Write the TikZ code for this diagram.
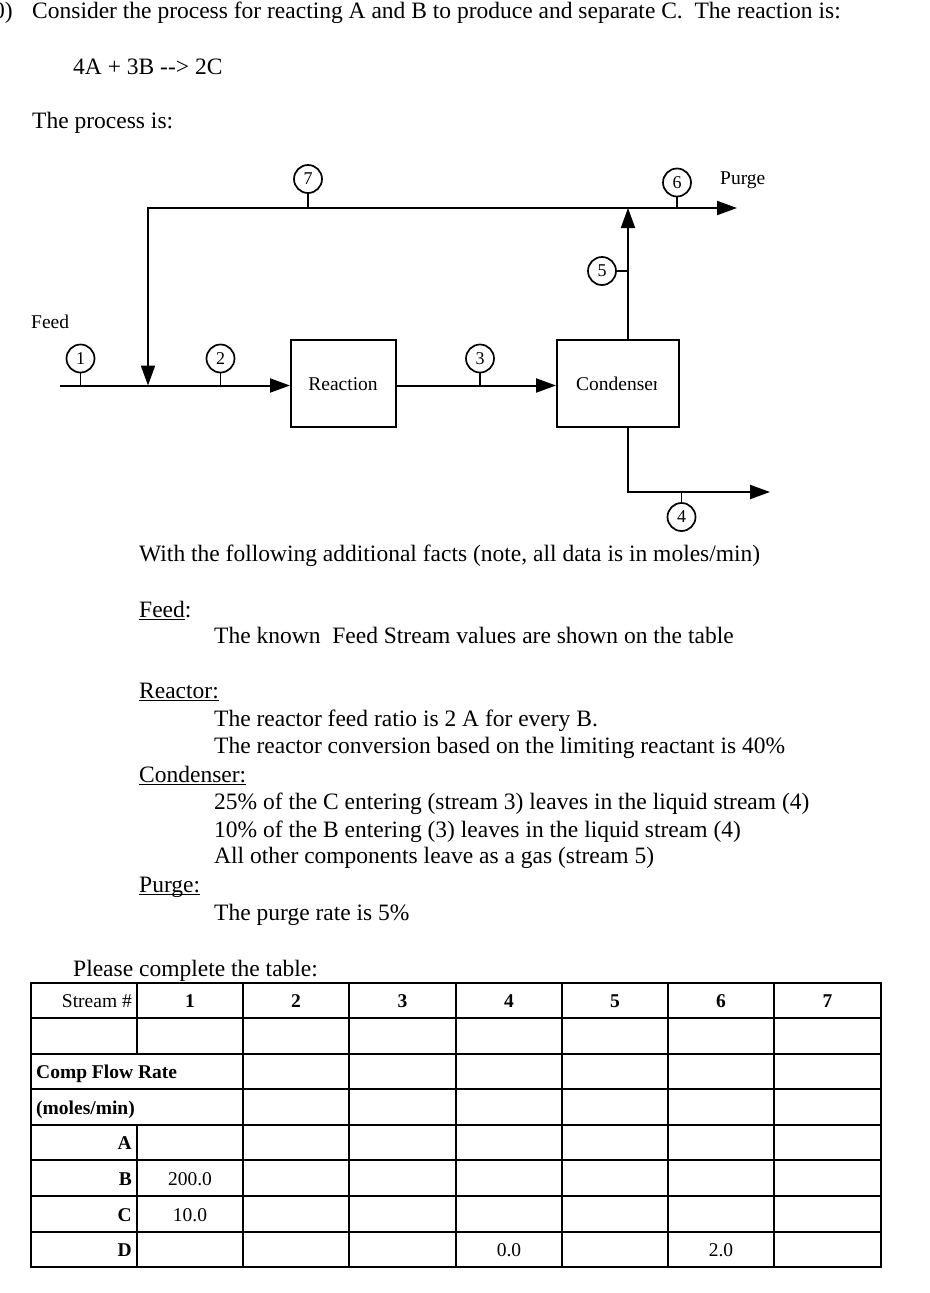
\documentclass[tikz,border=0pt]{standalone}
\usepackage{fontspec}
\setmainfont{Liberation Serif}
\usetikzlibrary{arrows.meta}
\newcommand\myul[1]{\setbox0\hbox{#1}\rlap{\rule[-3pt]{\wd0}{1.2pt}}\box0}
\begin{document}
\begin{tikzpicture}[x=1pt,y=-1pt,
  flow/.style={line width=2pt},
  arr/.style={flow,-{Triangle[length=20pt,width=14pt]}},
  stem/.style={line width=1.8pt},
  tag/.style={circle,draw,line width=1.7pt,minimum size=28pt,inner sep=0pt,font=\fontsize{18}{20}\selectfont},
  unitbox/.style={draw,line width=2pt,inner sep=0pt,minimum height=87pt},
  dlabel/.style={font=\fontsize{19.5}{22}\selectfont,inner sep=0pt},
  body/.style={anchor=base west,font=\fontsize{23.5}{27}\selectfont,inner sep=0pt},
  cell/.style={anchor=base,font=\fontsize{19.5}{22}\selectfont,inner sep=0pt},
  bcell/.style={cell,font=\fontsize{19.5}{22}\selectfont\bfseries},
  grid/.style={line width=2pt,line cap=rect},
]
\useasboundingbox (0,0) rectangle (929,1293);

% ---------- heading text ----------
\node[body,anchor=base east] (qnum) at (13,18.5) {0)};
\node[body] (q) at (32,18.5) {Consider the process for reacting A and B to produce and separate C.~ The reaction is:};
\node[body] (rxn) at (73,74) {4A + 3B -{}-{}> 2C};
\node[body] (proc) at (32,128) {The process is:};

% ---------- process diagram ----------
\node[unitbox,minimum width=105pt] (reactor) at (343.5,383.5) {};
\node[dlabel,anchor=base] (reactlbl) at (343,390) {Reaction};
\node[unitbox,minimum width=122pt] (cond) at (618,383.5) {};
\begin{scope}
  \clip (559,342) rectangle (656.5,425);
  \node[dlabel,anchor=base west] (condlbl) at (576,390) {Condenser};
\end{scope}

\coordinate (feedstart) at (60,385.5);
\coordinate (mix) at (148,385.5);
\coordinate (corner) at (148,208);
\coordinate (split) at (628,208);
\coordinate (purgeend) at (737,208);
\coordinate (liqcorner) at (628,492);
\coordinate (liqend) at (770,492);

\draw[flow] (feedstart) -- (mix);
\draw[arr] (mix) -- (mix -| reactor.west);
\draw[arr] (reactor.east |- mix) -- (cond.west |- mix);
\draw[arr] (split |- cond.north) -- (split);
\draw[arr] (split) -- (corner) -- (mix);
\draw[arr] (split) -- (purgeend);
\draw[arr] (split |- cond.south) -- (liqcorner) -- (liqend);

\node[tag] (s1) at (80.5,358.5) {1};
\draw[stem] (s1.south) -- (s1.south |- feedstart);
\node[tag] (s2) at (220.5,358.5) {2};
\draw[stem] (s2.south) -- (s2.south |- feedstart);
\node[tag] (s3) at (480,358.5) {3};
\draw[stem] (s3.south) -- (s3.south |- feedstart);
\node[tag] (s7) at (308,179) {7};
\draw[stem] (s7.south) -- (s7.south |- corner);
\node[tag] (s6) at (677,182.5) {6};
\draw[stem] (s6.south) -- (s6.south |- corner);
\node[tag] (s5) at (602,271) {5};
\draw[stem] (s5.east) -- (s5.east -| split);
\node[tag] (s4) at (681.5,517) {4};
\draw[stem] (s4.north) -- (s4.north |- liqend);

\node[dlabel,anchor=base west] (feedlbl) at (31,328) {Feed};
\node[dlabel,anchor=base west] (purgelbl) at (720,184.5) {Purge};

% ---------- facts ----------
\node[body] (t1) at (139,561) {With the following additional facts (note, all data is in moles/min)};
\node[body] (t2) at (139,617) {\myul{Feed}:};
\node[body] (t3) at (214,643) {The known~ Feed Stream values are shown on the table};
\node[body] (t4) at (139,698) {\myul{Reactor:}};
\node[body] (t5) at (214,726) {The reactor feed ratio is 2 A for every B.};
\node[body] (t6) at (214,753) {The reactor conversion based on the limiting reactant is 40\%};
\node[body] (t7) at (139,782) {\myul{Condenser:}};
\node[body] (t8) at (214,809) {25\% of the C entering (stream 3) leaves in the liquid stream (4)};
\node[body] (t9) at (214,837) {10\% of the B entering (3) leaves in the liquid stream (4)};
\node[body] (t10) at (214,863) {All other components leave as a gas (stream 5)};
\node[body] (t11) at (139,892) {\myul{Purge:}};
\node[body] (t12) at (214,920) {The purge rate is 5\%};

\node[body] (t13) at (73,976) {Please complete the table:};

% ---------- table ----------
\foreach \y in {983,1018,1054,1089,1125,1160,1196,1232,1267}
  \draw[grid] (31,\y) -- (881,\y);
\foreach \x in {31,243,349,456,562,668,774,881}
  \draw[grid] (\x,983) -- (\x,1267);
\draw[grid] (137,983) -- (137,1054);
\draw[grid] (137,1125) -- (137,1267);

\node[cell,anchor=base east] (hstream) at (132,1007) {Stream \#};
\foreach \n/\x in {1/190,2/296,3/402.5,4/509,5/615,6/721,7/827.5}
  \node[bcell] (h\n) at (\x,1007) {\n};
\node[bcell,anchor=base west] (comp) at (36,1078) {Comp Flow Rate};
\node[bcell,anchor=base west] (units) at (36,1114) {(moles/min)};
\node[bcell,anchor=base east] (rA) at (132,1149) {A};
\node[bcell,anchor=base east] (rB) at (132,1185) {B};
\node[bcell,anchor=base east] (rC) at (132,1221) {C};
\node[bcell,anchor=base east] (rD) at (132,1256) {D};
\node[cell] (vB1) at (190,1185) {200.0};
\node[cell] (vC1) at (190,1221) {10.0};
\node[cell] (vD4) at (509,1256) {0.0};
\node[cell] (vD6) at (721,1256) {2.0};
\end{tikzpicture}
\end{document}
